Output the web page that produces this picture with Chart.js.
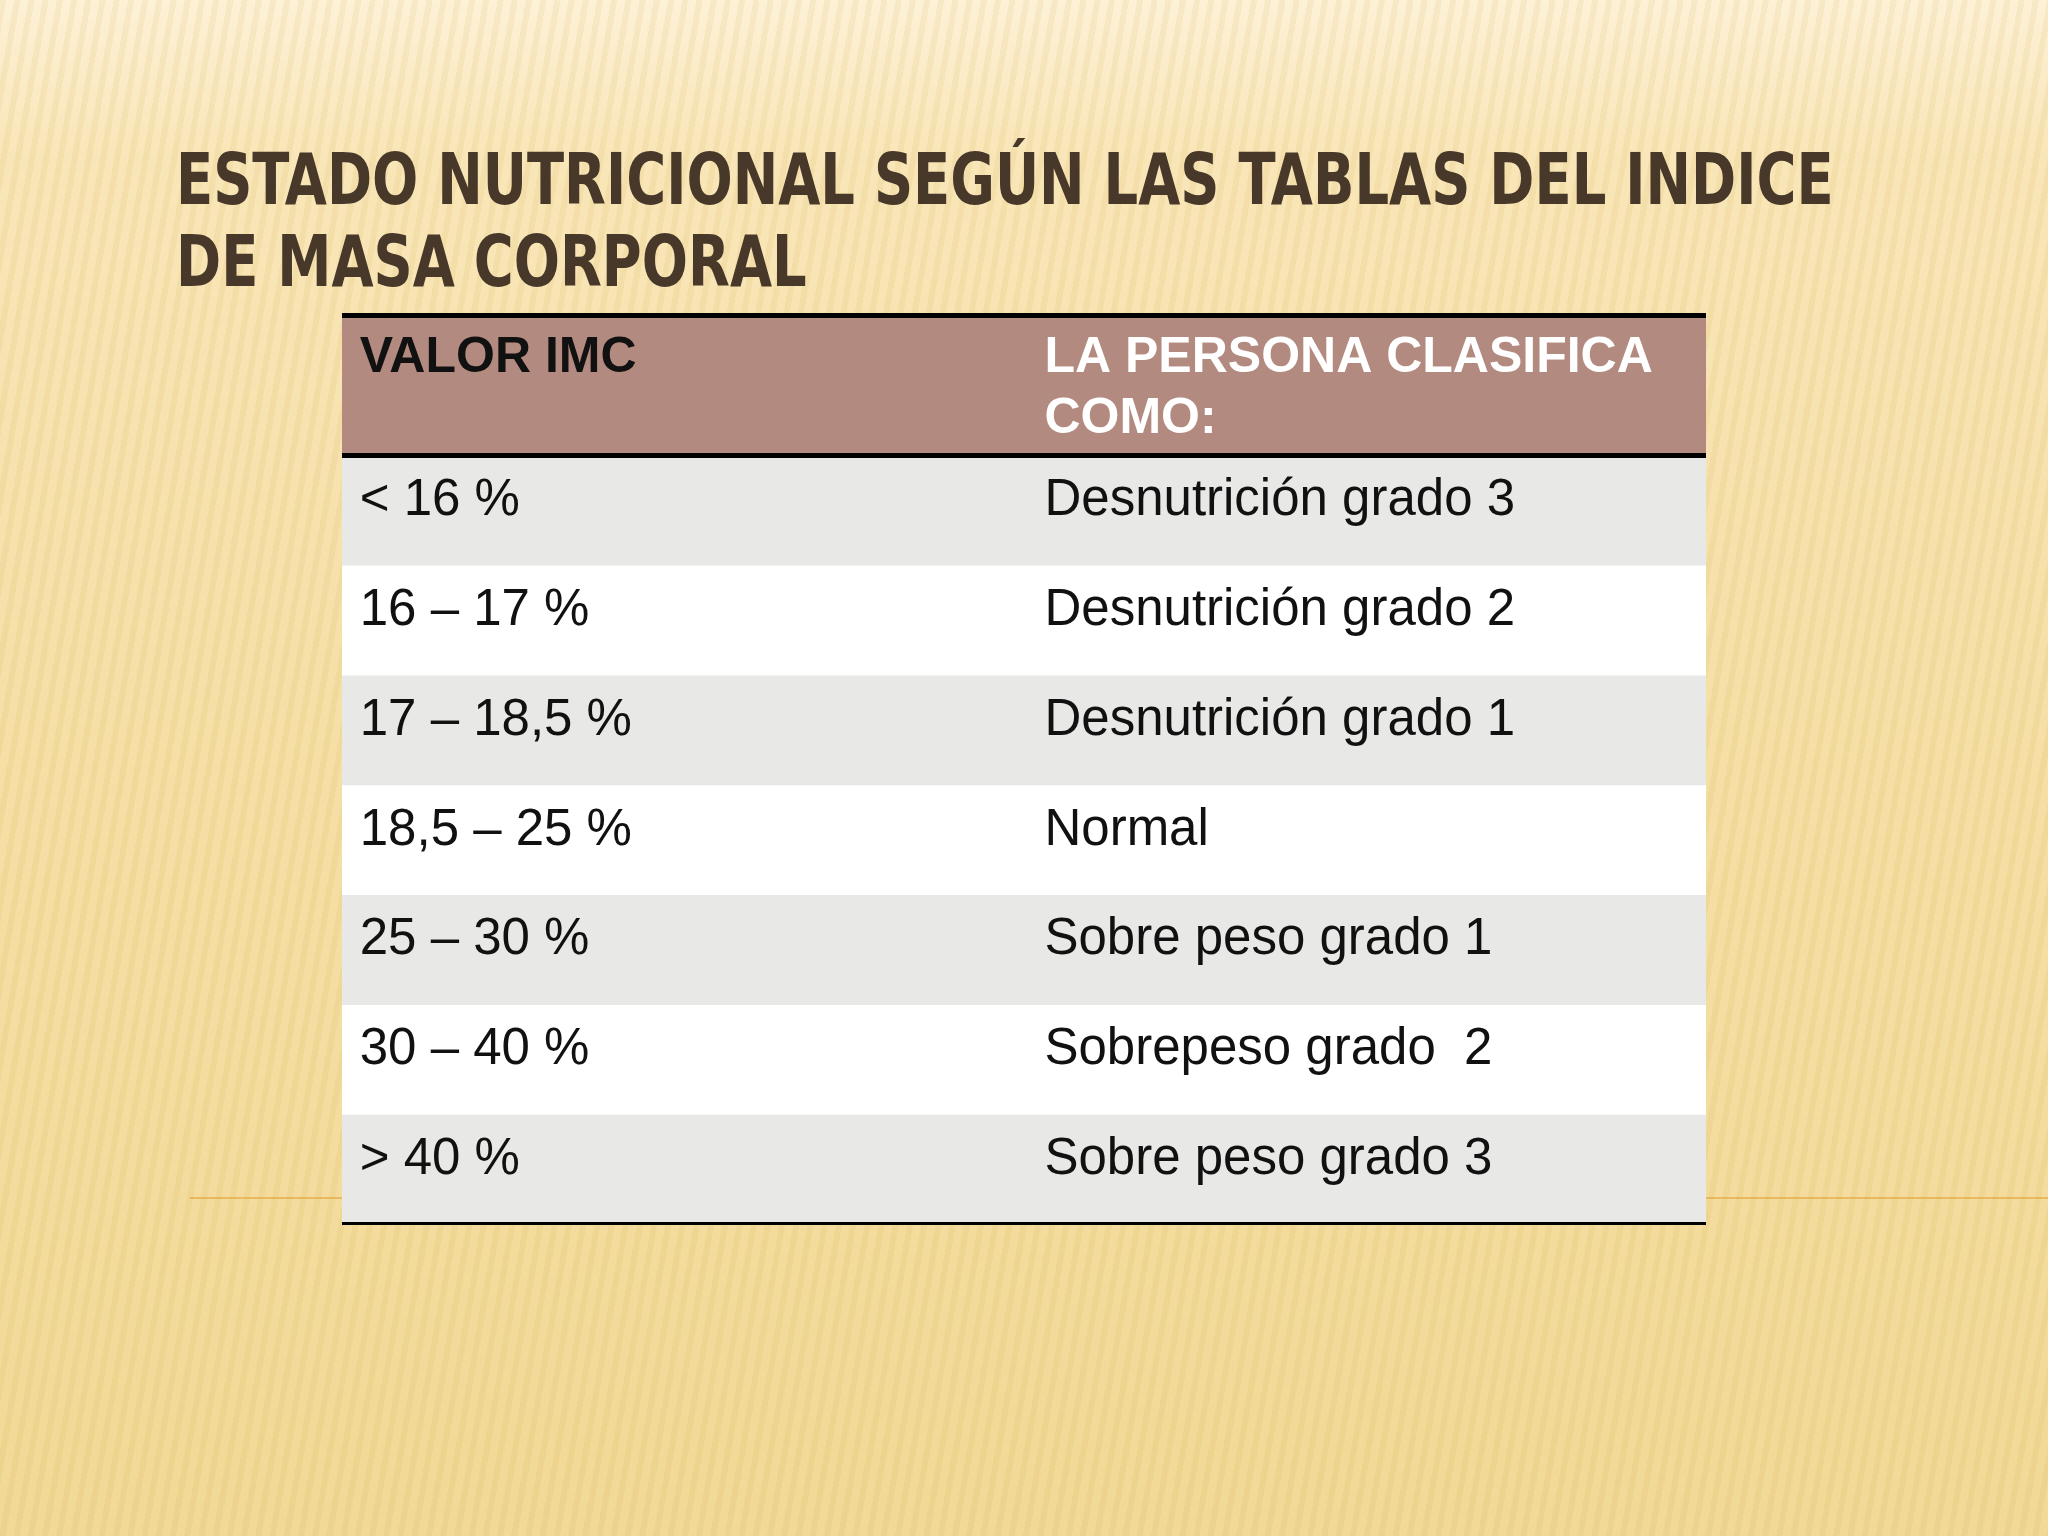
<!DOCTYPE html>
<html><head><meta charset="utf-8">
<script src="https://cdn.jsdelivr.net/npm/chart.js@4/dist/chart.umd.min.js"></script>
<style>
html,body{margin:0;width:2048px;height:1536px;overflow:hidden}
body{background:
 repeating-linear-gradient(100deg, rgba(200,160,60,0.10) 0 6px, rgba(255,255,255,0) 6px 14px),
 linear-gradient(180deg,#fdf1d6 0%,#f9e6b8 10%,#f5dfa5 50%,#f1d996 100%);
 font-family:"DejaVu Sans Condensed","Liberation Sans",sans-serif}
#title{position:absolute;left:176px;top:138px;font:bold 72px "DejaVu Sans Condensed",sans-serif;color:#47382a;line-height:82px;transform:scaleX(0.84);transform-origin:left top;white-space:nowrap}
#wrap{position:absolute;left:342px;top:313px;width:1364px;height:912px}
#line{position:absolute;left:190px;right:0;top:1197px;height:2px;background:rgba(230,150,40,0.5)}
</style></head><body>
<div id="line"></div>
<div id="title">ESTADO NUTRICIONAL SEGÚN LAS TABLAS DEL INDICE<br>DE MASA CORPORAL</div>
<div id="wrap"><canvas id="c"></canvas></div>
<script>
const header = ['VALOR IMC', 'LA PERSONA CLASIFICA\nCOMO:'];
const rangos = ['< 16 %', '16 – 17 %', '17 – 18,5 %', '18,5 – 25 %', '25 – 30 %', '30 – 40 %', '> 40 %'];
const clases = ['Desnutrición grado 3', 'Desnutrición grado 2', 'Desnutrición grado 1', 'Normal', 'Sobre peso grado 1', 'Sobrepeso grado  2', 'Sobre peso grado 3'];

const colors = rangos.map((r, i) => i % 2 === 0 ? '#e8e8e6' : '#ffffff');
const HEADER_H = 143;

const tablePlugin = {
  id: 'tableText',
  beforeDatasetsDraw(chart) {
    const ctx = chart.ctx, a = chart.chartArea;
    ctx.save();
    ctx.fillStyle = '#b38a80';
    ctx.fillRect(a.left, a.top - HEADER_H, a.right - a.left, HEADER_H);
    ctx.restore();
  },
  afterDatasetsDraw(chart) {
    const ctx = chart.ctx, x = chart.scales.x, y = chart.scales.y, a = chart.chartArea;
    const c1 = x.getPixelForValue(0.013), c2 = x.getPixelForValue(0.515);
    const top0 = a.top - HEADER_H;
    ctx.save();
    ctx.textBaseline = 'top';
    ctx.font = 'bold 50px "Liberation Sans", Arial, sans-serif';
    ctx.fillStyle = '#111';
    ctx.fillText(header[0], c1, top0 + 20);
    ctx.fillStyle = '#fff';
    header[1].split('\n').forEach((l, i) => ctx.fillText(l, c2, top0 + 20 + i * 61));
    ctx.fillStyle = '#111';
    ctx.font = '51px "Liberation Sans", Arial, sans-serif';
    ctx.textBaseline = 'middle';
    rangos.forEach((r, i) => {
      const cy = y.getPixelForValue(i) - 10;
      ctx.fillText(r, c1, cy);
      ctx.fillText(clases[i], c2, cy);
    });
    ctx.fillStyle = '#000';
    const l = a.left, w = a.right - a.left;
    ctx.fillRect(l, top0, w, 5);
    ctx.fillRect(l, a.top - 3, w, 5);
    ctx.fillRect(l, a.bottom - 3, w, 5);
    ctx.restore();
  }
};

new Chart(document.getElementById('c'), {
  type: 'bar',
  data: { labels: rangos, datasets: [{ data: rangos.map(() => 1), backgroundColor: colors, barPercentage: 1, categoryPercentage: 1, borderWidth: 0 }] },
  options: {
    indexAxis: 'y', responsive: true, maintainAspectRatio: false, animation: false,
    layout: { padding: { top: HEADER_H, bottom: 0, left: 0, right: 0 } },
    plugins: { legend: { display: false }, tooltip: { enabled: false } },
    scales: { x: { display: false, min: 0, max: 1 }, y: { display: false } }
  },
  plugins: [tablePlugin]
});
</script>
</body></html>
